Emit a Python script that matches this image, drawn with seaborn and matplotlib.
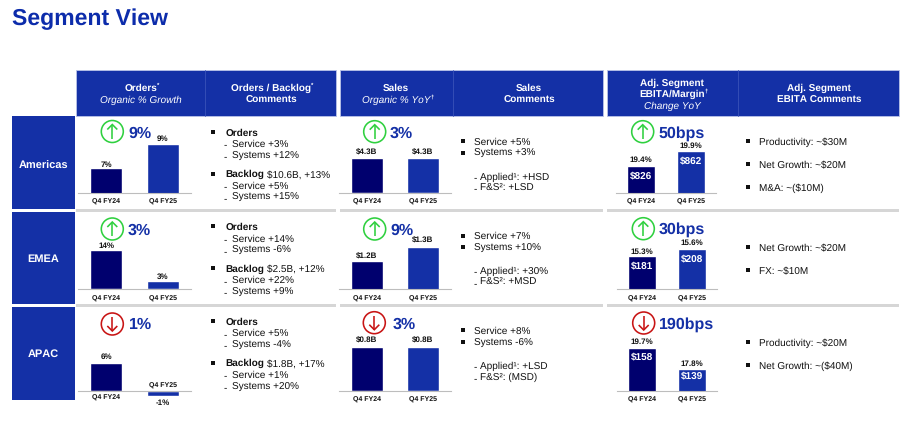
import matplotlib
matplotlib.use("Agg")
import matplotlib.pyplot as plt
from matplotlib.patches import Rectangle, Circle
import pandas as pd
import seaborn as sns

sns.set_theme(style="white")
plt.rcParams["font.family"] = ["Liberation Sans", "DejaVu Sans"]
plt.rcParams["text.parse_math"] = False
plt.rcParams["text.hinting"] = "no_hinting"
plt.rcParams["text.hinting_factor"] = 1

W, H = 904, 422
BLUE = "#1430a6"
NAVY = "#00006e"
TITLE = "#0c2cab"
GREY = "#d6d6d6"
AXIS = "#bdbdbd"
UP = "#2fd03f"
DOWN = "#c81414"
BODY = 7.2

# ---- chart values ----
quarters = ["Q4 FY24", "Q4 FY25"]
orders_americas = [7, 9]
orders_emea = [14, 3]
orders_apac = [6, -1]
sales_americas = [4.3, 4.3]
sales_emea = [1.2, 1.3]
sales_apac = [0.8, 0.8]
ebita_americas = [826, 862]
ebita_emea = [181, 208]
ebita_apac = [158, 139]
margin_americas = ["19.4%", "19.9%"]
margin_emea = ["15.3%", "15.6%"]
margin_apac = ["19.7%", "17.8%"]
regions = ["Americas", "EMEA", "APAC"]
orders_delta = ["9%", "3%", "1%"]
sales_delta = ["3%", "9%", "3%"]
ebita_delta = ["50bps", "30bps", "190bps"]
orders_dir = [1, 1, -1]
sales_dir = [1, 1, -1]
ebita_dir = [1, 1, -1]

fig = plt.figure(figsize=(W / 100, H / 100), dpi=100, facecolor="white")
bg = fig.add_axes([0, 0, 1, 1], zorder=0)
bg.set_xlim(0, W)
bg.set_ylim(H, 0)
bg.axis("off")


def box(x0, y0, x1, y1, color, edge="none"):
    bg.add_patch(Rectangle((x0, y0), x1 - x0, y1 - y0, fc=color, ec=edge, lw=0.6))


def txt(x, y, s, size=BODY, weight="normal", color="#111111", ha="left", style="normal"):
    # y is the middle of the capitals; setting on the baseline keeps line spacing even
    return bg.text(x, y + size * 0.497, s, fontsize=size, fontweight=weight, color=color,
                   ha=ha, va="baseline", fontstyle=style)


def sup(t, s, color="white"):
    # small superscript mark placed straight after an existing label
    bb = t.get_window_extent(fig.canvas.get_renderer())
    bg.text(bb.x1 + 0.3, t.get_position()[1] - 6.2, s, fontsize=4.4, fontweight="bold",
            color=color, ha="left", va="center")


def bullet(x, y):
    bg.plot([x], [y], marker="s", ms=2.3, mew=0, color="#111111", ls="none")


def mixed(x, y, bold, rest):
    t = txt(x, y, bold, weight="bold")
    bb = t.get_window_extent(fig.canvas.get_renderer())
    txt(bb.x1 + 2.4, y, rest)


def arrow(cx, cy, direction, label, lx, ly):
    c = UP if direction > 0 else DOWN
    bg.add_patch(Circle((cx, cy), 11, fc="white", ec=c, lw=1.15))
    d = direction
    bg.plot([cx, cx], [cy + 7 * d, cy - 7 * d], color=c, lw=1.15, solid_capstyle="butt")
    bg.plot([cx - 5, cx, cx + 5], [cy - 2 * d, cy - 7 * d, cy - 2 * d], color=c, lw=1.15,
            solid_joinstyle="miter", solid_capstyle="butt")
    txt(lx, ly, label, size=11.4, weight="bold", color=BLUE)


# ---- title ----
txt(12, 16.5, "Segment View", size=16.6, weight="bold", color=TITLE)

# ---- header bands ----
for x0, x1, split in [(76, 336, 205), (340, 603, 453), (607, 899, 738)]:
    box(x0, 70, x1, 116, BLUE, edge="#b9c3e8")
    bg.plot([split, split], [70, 116], color="#3a52b8", lw=0.6)
    for y in (210.5, 305.5):
        box(x0, y - 1.6, x1, y + 1.6, GREY)

HEAD = dict(size=BODY, weight="bold", color="white", ha="center")
ITAL = dict(size=BODY, color="white", ha="center", style="italic")
sup(txt(140.5, 87.5, "Orders", **HEAD), "*")
txt(140.5, 99.5, "Organic % Growth", **ITAL)
sup(txt(271, 87.5, "Orders / Backlog", **HEAD), "*")
txt(271, 99.5, "Comments", **HEAD)
txt(396, 87.5, "Sales", **HEAD)
sup(txt(396, 99.5, "Organic % YoY", **ITAL), "†")
txt(529, 87.5, "Sales", **HEAD)
txt(529, 99.5, "Comments", **HEAD)
txt(672, 82, "Adj. Segment", **HEAD)
sup(txt(672, 93.7, "EBITA/Margin", **HEAD), "†")
txt(672, 105, "Change YoY", **ITAL)
txt(819, 87.5, "Adj. Segment", **HEAD)
txt(819, 99.5, "EBITA Comments", **HEAD)

# ---- region tabs ----
tabs = [(116, 209, 164.5), (212, 304, 258.5), (307, 400, 353)]
for name, (y0, y1, yc) in zip(regions, tabs):
    box(12, y0, 75.5, y1, BLUE)
    txt(43.5, yc, name, size=8, weight="bold", color="white", ha="center")

# ---- delta badges ----
orders_pos = [(112.3, 131.5, 128, 132), (112.3, 229, 128, 229), (112.3, 324, 128.5, 323)]
sales_pos = [(374.7, 131.7, 390, 132), (374.7, 229, 390, 229), (374.3, 322.7, 392.3, 323)]
ebita_pos = [(642.7, 131.7, 659, 132), (643.3, 228.7, 659, 227.7), (643.7, 323, 659, 323)]
for pos, vals, dirs in [(orders_pos, orders_delta, orders_dir),
                        (sales_pos, sales_delta, sales_dir),
                        (ebita_pos, ebita_delta, ebita_dir)]:
    for (cx, cy, lx, ly), v, d in zip(pos, vals, dirs):
        arrow(cx, cy, d, v, lx, ly)


# ---- bar panels ----
def panel(x0, x1, base_y, values, floor, ppu, top_labels, gaps, inner=None, inner_off=None,
          pads=(4.2, 4.2)):
    # room under the baseline is only needed when a bar goes negative;
    # otherwise the axis floor trims the bars at the baseline
    below = 14 if min(values) < 0 else 0
    above = 62
    ax = fig.add_axes([x0 / W, 1 - (base_y + below) / H, (x1 - x0) / W, (above + below) / H],
                      zorder=2)
    ax.patch.set_alpha(0)
    df = pd.DataFrame({"quarter": quarters, "value": values})
    sns.barplot(data=df, x="quarter", y="value", hue="quarter", order=quarters,
                hue_order=quarters, palette=[NAVY, BLUE], width=0.57, dodge=False,
                legend=False, ax=ax, saturation=1, errorbar=None)
    ax.set_xlim(-0.5, 1.5)
    ax.set_ylim(floor - below / ppu, floor + above / ppu)
    ax.set_xlabel("")
    ax.set_ylabel("")
    ax.set_yticks([])
    for s in ("top", "left", "right"):
        ax.spines[s].set_visible(False)
    ax.spines["bottom"].set_position(("data", floor))
    ax.spines["bottom"].set_color(AXIS)
    ax.spines["bottom"].set_linewidth(0.8)
    ax.set_xticks([0, 1])
    ax.set_xticklabels(quarters, fontsize=5.0, fontweight="bold", color="#111111")
    ax.set_xticks([-0.5, 0.5, 1.5], minor=True)
    ax.tick_params(axis="x", which="major", length=0, pad=4.2)
    ax.tick_params(axis="x", which="minor", length=1.6, width=0.6, color=AXIS, direction="out")
    for tick, pad in zip(ax.xaxis.get_major_ticks(), pads):
        tick.set_pad(pad)
    for i, v in enumerate(values):
        sign = 1 if v >= 0 else -1
        ax.annotate(top_labels[i], (i, v), xytext=(0, sign * gaps[i]),
                    textcoords="offset pixels", ha="center", va="center",
                    fontsize=5.6, fontweight="bold", color="#111111", annotation_clip=False)
        if inner:
            ax.annotate(inner[i], (i, v), xytext=(0, -inner_off[i]),
                        textcoords="offset pixels", ha="center", va="center",
                        fontsize=7.4, fontweight="bold", color="white")
    return ax


pct = lambda arr: [f"{v}%" for v in arr]
usd_b = lambda arr: [f"${v}B" for v in arr]
usd_m = lambda arr: [f"${v}" for v in arr]

panel(78, 191, 192.7, orders_americas, 5, 12.2, pct(orders_americas), (3.7, 4.7))
panel(78, 191, 289.3, orders_emea, 0, 2.79, pct(orders_emea), (4.3, 4.3))
panel(78, 191, 391, orders_apac, 0, 4.72, pct(orders_apac), (6, 7.3), pads=(2.3, -6.3))

panel(339, 451, 192.7, sales_americas, 0, 8.07, usd_b(sales_americas), (5.7, 5.7))
panel(339, 451, 289.3, sales_emea, 1.0, 140, usd_b(sales_emea), (5.3, 6.7))
panel(339, 451, 391, sales_apac, 0, 55, usd_b(sales_apac), (7, 7))

panel(616, 716, 192.7, ebita_americas, 761, 0.41, margin_americas, (5.7, 5.6),
      usd_m(ebita_americas), (11, 10))
panel(617, 717, 289.3, ebita_emea, 64, 0.282, margin_emea, (4.3, 5.7),
      usd_m(ebita_emea), (10, 11))
panel(617, 717, 391, ebita_apac, 118.5, 1.09, margin_apac, (6, 5),
      usd_m(ebita_apac), (10, 7.7))


# ---- comment columns ----
def orders_notes(ys, o1, o2, backlog, b1, b2):
    bullet(213.5, ys[0])
    txt(225.7, ys[0], "Orders", weight="bold")
    bullet(213.5, ys[3])
    mixed(225.7, ys[3], "Backlog", backlog)
    for y, s in zip((ys[1], ys[2], ys[4], ys[5]), (o1, o2, b1, b2)):
        txt(224, y + 0.6, "-")
        txt(231.7, y, s)


orders_notes((132, 143.3, 155, 173.7, 185, 196.7), "Service +3%", "Systems +12%",
             "$10.6B, +13%", "Service +5%", "Systems +15%")
orders_notes((226.3, 238, 249.6, 268, 279.7, 291.3), "Service +14%", "Systems -6%",
             "$2.5B, +12%", "Service +22%", "Systems +9%")
orders_notes((321, 332.6, 344, 362.7, 374, 386), "Service +5%", "Systems -4%",
             "$1.8B, +17%", "Service +1%", "Systems +20%")


def sales_notes(ys, lines):
    for y, s in zip(ys[:2], lines[:2]):
        bullet(463.3, y)
        txt(474, y, s)
    for y, s in zip(ys[2:], lines[2:]):
        txt(473.5, y + 0.6, "-")
        txt(480, y, s)


sales_notes((141.3, 152.7, 176, 187.3),
            ["Service +5%", "Systems +3%", "Applied¹: +HSD", "F&S²: +LSD"])
sales_notes((235.7, 247.3, 270.3, 281.7),
            ["Service +7%", "Systems +10%", "Applied¹: +30%", "F&S²: +MSD"])
sales_notes((330.3, 342, 365, 376.7),
            ["Service +8%", "Systems -6%", "Applied¹: +LSD", "F&S²: (MSD)"])

ebita_notes = [
    ((141.3, 164.3, 187.3), ["Productivity: ~$30M", "Net Growth: ~$20M", "M&A: ~($10M)"]),
    ((247.3, 270.3), ["Net Growth: ~$20M", "FX: ~$10M"]),
    ((342, 365), ["Productivity: ~$20M", "Net Growth: ~($40M)"]),
]
for ys, lines in ebita_notes:
    for y, s in zip(ys, lines):
        bullet(747.7, y)
        txt(759, y, s)

fig.savefig("out.png", dpi=100, facecolor="white")
